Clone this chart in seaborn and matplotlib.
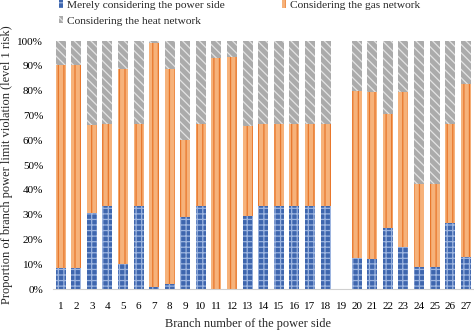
import matplotlib
matplotlib.use("Agg")
import matplotlib.pyplot as plt
import seaborn as sns
import numpy as np
import pandas as pd
from matplotlib.patches import Patch
from matplotlib.ticker import PercentFormatter

# Branch numbers of the power side
branches = [str(i) for i in range(1, 28)]

# Share (%) of level-1 branch power limit violations by source
power_side = [8.3, 8.3, 30.8, 33.3, 10.0, 33.3, 1.0, 2.2, 28.9, 33.3, 0.0, 0.0, 29.6,
              33.3, 33.3, 33.3, 33.3, 33.3, 0.0, 12.5, 12.2, 24.4, 16.9, 9.0, 9.0, 26.5, 13.0]
gas_network = [81.9, 81.9, 35.3, 33.4, 78.7, 33.4, 98.0, 86.5, 31.1, 33.4, 93.3, 93.4, 36.0,
               33.4, 33.4, 33.4, 33.4, 33.4, 0.0, 67.3, 67.2, 46.2, 62.5, 33.2, 33.3, 40.2, 69.5]
heat_network = [9.8, 9.8, 33.9, 33.3, 11.3, 33.3, 1.0, 11.3, 40.0, 33.3, 6.7, 6.6, 34.4,
                33.3, 33.3, 33.3, 33.3, 33.3, 0.0, 20.2, 20.6, 29.4, 20.6, 57.8, 57.7, 33.3, 17.5]

series_names = ["Merely considering the power side",
                "Considering the gas network",
                "Considering the heat network"]

df = pd.DataFrame({"branch": branches,
                   "power": power_side,
                   "gas": gas_network,
                   "heat": heat_network})
df["cum_power"] = df["power"]
df["cum_gas"] = df["power"] + df["gas"]
df["cum_heat"] = df["cum_gas"] + df["heat"]

sns.set_theme(style="white")
plt.rcParams["font.family"] = ["Liberation Serif", "DejaVu Serif"]
plt.rcParams["hatch.linewidth"] = 0.9

fig = plt.figure(figsize=(4.74, 3.32), dpi=100)
ax = fig.add_axes([0.1116, 0.1295, 0.8874, 0.7470])

# (cumulative column, face colour, hatch colour, hatch pattern)
layers = [
    ("cum_heat", "#ABABAB", "#E4E4E4", "\\\\\\\\"),
    ("cum_gas", "#F6B27A", "#E8772C", "|||"),
    ("cum_power", "#3E66AE", "#9DB5E0", "+++"),
]

bar_width = 0.64
for col, face, hatch_col, hatch in layers:
    sns.barplot(data=df, x="branch", y=col, order=branches, color=face,
                width=bar_width, saturation=1, ax=ax, errorbar=None)
    n = len(branches)
    for patch in ax.patches[-n:]:
        patch.set_facecolor(face)
        patch.set_edgecolor(hatch_col)
        patch.set_linewidth(0)
        patch.set_hatch(hatch)

ax.set_xlim(-0.5, len(branches) - 0.5)
ax.set_ylim(0, 100)
ax.set_yticks(np.arange(0, 101, 10))
ax.yaxis.set_major_formatter(PercentFormatter(decimals=0))

for side in ["top", "right", "left"]:
    ax.spines[side].set_visible(False)
ax.spines["bottom"].set_color("#D0D0D0")
ax.spines["bottom"].set_linewidth(0.8)

ax.tick_params(axis="both", length=0, labelsize=8, colors="black")
ax.tick_params(axis="y", pad=7)
ax.tick_params(axis="x", pad=9)

ax.set_xlabel("Branch number of the power side", fontsize=8.9)
ax.set_ylabel("Proportion of branch power limit violation (level 1 risk)", fontsize=8.9)
ax.xaxis.set_label_coords(0.465, -0.115)
ax.yaxis.set_label_coords(-0.095, 0.5)

handles = [
    Patch(facecolor="#3E66AE", edgecolor="#9DB5E0", hatch="+++", linewidth=0, label=series_names[0]),
    Patch(facecolor="#ABABAB", edgecolor="#E4E4E4", hatch="\\\\\\\\", linewidth=0, label=series_names[2]),
    Patch(facecolor="#F6B27A", edgecolor="#E8772C", hatch="|||", linewidth=0, label=series_names[1]),
]
fig.legend(handles=handles, ncol=2, loc="upper left", bbox_to_anchor=(0.103, 1.03),
           frameon=False, fontsize=8.2, handlelength=0.35, handleheight=0.6,
           handletextpad=0.35, columnspacing=5.0, labelspacing=0.55)

fig.savefig("out.png", dpi=100)
